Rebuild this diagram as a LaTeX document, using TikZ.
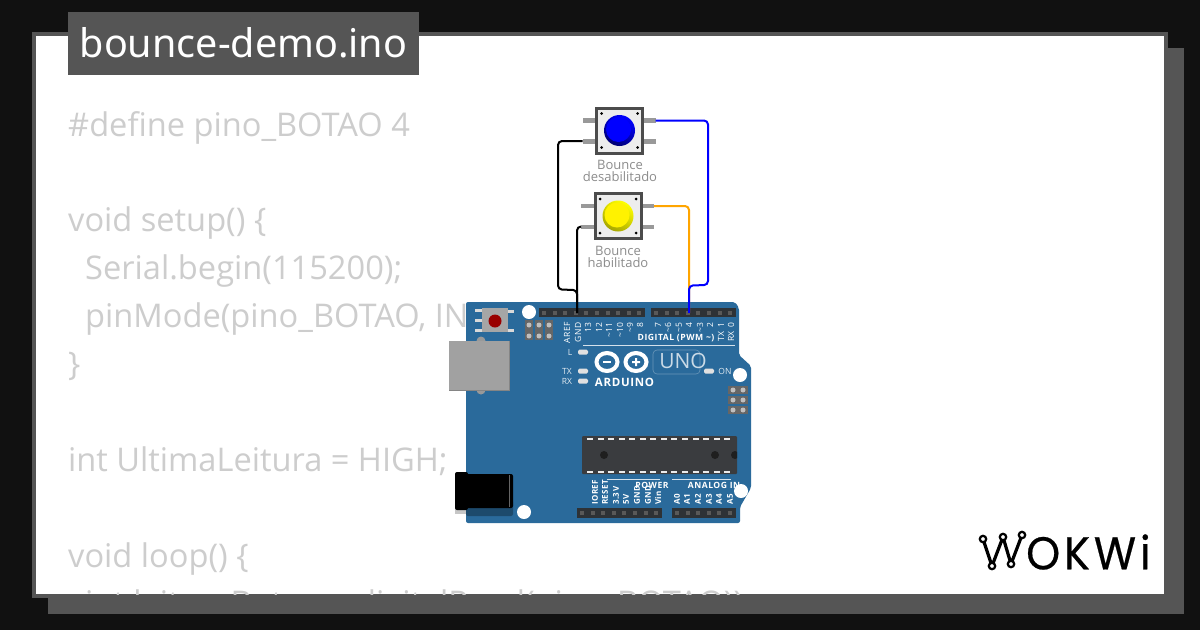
\documentclass[tikz,border=0pt]{standalone}
\usepackage{fontspec}
\setmainfont{Open Sans}
\newfontfamily\titlefont{Noto Sans}
\newfontfamily\boardfont[LetterSpace=6]{Open Sans}
\newfontfamily\logofont[LetterSpace=9,FakeBold=0.5]{Poppins}
\usetikzlibrary{positioning}
\definecolor{pagedark}{HTML}{111111}
\definecolor{framegrey}{HTML}{555555}
\definecolor{codegrey}{HTML}{CDCDCD}
\definecolor{boardblue}{HTML}{2A6A9B}
\definecolor{headerdark}{HTML}{2E3236}
\definecolor{chipdark}{HTML}{3A3C3F}
\definecolor{wireorange}{HTML}{FFA500}
\tikzset{
    codeline/.style={anchor=base west, inner sep=0pt, text=codegrey, font=\fontsize{32.6}{33}\selectfont},
    pinlabel/.style={rotate=90, anchor=east, inner sep=0pt, text=white, font=\boardfont\fontsize{8.5}{8.5}\selectfont},
    powerlabel/.style={rotate=90, anchor=west, inner sep=0pt, text=white, font=\boardfont\bfseries\fontsize{8}{8}\selectfont},
    boardlabel/.style={inner sep=0pt, text=white, font=\boardfont\bfseries\fontsize{8.6}{8.6}\selectfont},
    ledlabel/.style={inner sep=0pt, text=white!85!boardblue, font=\fontsize{8.5}{8.5}\selectfont},
    buttonlabel/.style={inner sep=0pt, text=black!45, align=center, font=\fontsize{13}{12.5}\selectfont},
    wire/.style={line width=2pt, rounded corners=4pt},
    lead/.style={fill=black!40, draw=none},
    hole/.style={fill=white, draw=none},
    led/.style={fill=white!88!black, draw=none, rounded corners=1.5pt}
}
\begin{document}
\begin{tikzpicture}[x=1pt, y=-1pt]
    \useasboundingbox (0,0) rectangle (1200,630);
    \fill[pagedark] (0,0) rectangle (1200,630);
    \fill[framegrey] (48,48) rectangle (1184,614);
    \fill[framegrey] (32,32) rectangle (1168,598);
    \fill[white] (36,36) rectangle (1164,594);

    \begin{scope}
        \clip (36,36) rectangle (1164,594);
        \node[codeline] (code1) at (68,136) {\#define pino\_BOTAO 4};
        \node[codeline] (code2) at (68,231) {void setup() \{};
        \node[codeline] (code3) at (85,279) {Serial.begin(115200);};
        \node[codeline] (code4) at (85,327) {pinMode(pino\_BOTAO, IN};
        \node[codeline] (code5) at (68,375) {\}};
        \node[codeline] (code6) at (68,471) {int UltimaLeitura = HIGH;};
        \node[codeline] (code7) at (68,567) {void loop() \{};
        \node[codeline] (code8) at (85,614) {int leituraBotao = digitalRead(pino\_BOTAO));};
    \end{scope}

    \fill[framegrey] (68,12) rectangle (419,75);
    \node[inner sep=0pt, text=white, font=\titlefont\fontsize{39.5}{39.5}\selectfont] (title) at (243.5,43) {bounce-demo.ino};

    % board
    \fill[boardblue, rounded corners=2pt] (466,302) -- (735,302) -- (739,308) -- (739,355) -- (751,366)
        -- (751,488) -- (740,507) -- (740,523) -- (466,523) -- cycle;
    \foreach \hx/\hy in {529/312, 740/375, 741/491, 524/512}
        \fill[hole] (\hx,\hy) circle (7);

    % reset button
    \foreach \ly in {310, 320, 330}
        \fill[white!85!black] (475,\ly-1.5) rectangle (482,\ly+1.5);
    \foreach \ly in {311, 330}
        \fill[white!85!black] (508,\ly-1.5) rectangle (514,\ly+1.5);
    \fill[black!35] (482,308) rectangle (508,332);
    \fill[red!60!black] (495,321) circle (6.5);

    % usb and power jack
    \fill[black!40] (481,341) circle (4.5) (481,390) circle (4.5);
    \fill[black!37] (449,341) rectangle (509,390);
    \draw[black!48, line width=1pt] (449,390) -- (509,390) -- (509,341);
    \fill[black!22] (455,505) rectangle (466,514);
    \fill[boardblue!70!black, rounded corners=2pt] (466,500) rectangle (513,516);
    \fill[black, rounded corners=2pt] (455,472) rectangle (468,510);
    \fill[black, rounded corners=2pt] (466,474) rectangle (513,508);
    \draw[black!60] (509,475) -- (509,507);

    % headers
    \fill[headerdark] (539,308) rectangle (645,317);
    \fill[headerdark] (651,308) rectangle (736,317);
    \fill[headerdark] (577,508) rectangle (662,518);
    \fill[headerdark] (672,508) rectangle (736,518);
    \foreach \n in {0,...,9}
        \fill[black!65] (544+\n*10.6-2,311) rectangle (544+\n*10.6+2,315);
    \foreach \n in {0,...,7}
        \fill[black!65] (656+\n*10.6-2,311) rectangle (656+\n*10.6+2,315);
    \foreach \n in {0,...,7}
        \fill[black!65] (582+\n*10.6-2,511) rectangle (582+\n*10.6+2,515);
    \foreach \n in {0,...,5}
        \fill[black!65] (677+\n*10.6-2,511) rectangle (677+\n*10.6+2,515);

    % icsp
    \foreach \ix in {529, 539, 549} {
        \fill[black!60] (\ix-4,320) rectangle (\ix+4,340);
        \fill[black!25] (\ix,325) circle (2.5) (\ix,336) circle (2.5);
    }
    \foreach \iy in {390, 400, 410} {
        \fill[black!60] (728,\iy-4) rectangle (748,\iy+4);
        \fill[black!25] (733,\iy) circle (2.5) (743,\iy) circle (2.5);
    }

    % chip
    \fill[chipdark, rounded corners=1pt] (582,436) rectangle (737,474);
    \foreach \n in {0,...,13} {
        \fill[black!8] (587+\n*10.55,438) rectangle (593+\n*10.55,440);
        \fill[black!8] (587+\n*10.55,470.5) rectangle (593+\n*10.55,472.5);
    }
    \fill[black!88] (604,455) circle (4) (715,455) circle (4);
    \begin{scope}
        \clip (582,436) rectangle (737,474);
        \fill[black!88] (735,455) circle (4);
    \end{scope}

    % pin labels
    \foreach \lx/\ltext in {567/AREF, 578/GND, 588/13, 599/12, 609/\textasciitilde 11, 620/\textasciitilde 10,
        630/\textasciitilde 9, 640/8, 658/7, 668/\textasciitilde 6, 679/\textasciitilde 5, 689/4,
        700/\textasciitilde 3, 710/2, 721/1, 731/0}
        \node[pinlabel] at (\lx,322) {\ltext};
    \node[pinlabel] (txpin) at (721,331) {TX};
    \node[pinlabel] (rxpin) at (731,331) {RX};
    \foreach \lx/\ltext in {595/IOREF, 605/RESET, 616/3.3V, 626/5V, 637/GND, 648/GND, 658/Vin,
        677/A0, 687/A1, 698/A2, 709/A3, 719/A4, 730/A5}
        \node[powerlabel] at (\lx,505) {\ltext};
    \node[boardlabel] (digital) at (676,338) {DIGITAL (PWM \textasciitilde)};
    \node[boardlabel] (power) at (652,485) {POWER};
    \node[boardlabel] (analog) at (714,485) {ANALOG IN};
    \draw[white!80!boardblue, line width=.8pt] (583,345) -- (735,345);
    \draw[white!80!boardblue, line width=.8pt] (607,479.5) -- (660,479.5);
    \draw[white!80!boardblue, line width=.8pt] (672,479.5) -- (731,479.5);

    % leds
    \foreach \ledx/\ledy in {583/352, 583/371, 583/381, 709/371}
        \fill[led] (\ledx-5,\ledy-2.5) rectangle (\ledx+5,\ledy+2.5);
    \node[ledlabel] (ledl) at (570,352) {L};
    \node[ledlabel] (ledtx) at (567,371) {TX};
    \node[ledlabel] (ledrx) at (567,381) {RX};
    \node[ledlabel] (ledon) at (725,371) {ON};

    % logo
    \draw[white, line width=4pt] (607,362) ellipse (10.5 and 9) (636,362) ellipse (10.5 and 9);
    \fill[white] (603,361) rectangle (611,363);
    \fill[white] (632,361) rectangle (640,363) (635,358) rectangle (637,366);
    \node[inner sep=0pt, text=white, font=\boardfont\bfseries\fontsize{11.5}{11.5}\selectfont] (arduino) at (624.5,382) {ARDUINO};
    \draw[white!30!boardblue, rounded corners=4pt, line width=.6pt] (653,350) rectangle (700,374);
    \node[inner sep=0pt, text=white!75!boardblue, font=\fontsize{21}{21}\selectfont] (uno) at (683,361) {UNO};

    % buttons
    \foreach \bname/\bx/\by/\bcol/\brim in {blue/619.5/130.5/blue/blue!45!black, yellow/618/216/yellow/yellow!65!black} {
        \fill[lead] (\bx-37,\by-12.5) rectangle (\bx-24,\by-8);
        \fill[lead] (\bx-37,\by+8.5) rectangle (\bx-24,\by+13);
        \fill[lead] (\bx+24,\by-12.5) rectangle (\bx+36,\by-8);
        \fill[lead] (\bx+24,\by+8.5) rectangle (\bx+36,\by+13);
        \node[draw=black!70, fill=black!7, line width=3pt, minimum width=46pt, minimum height=45pt, inner sep=0pt] (\bname) at (\bx,\by) {};
        \coordinate (\bname l1) at (\bx-37,\by+10.5);
        \coordinate (\bname r0) at (\bx+36,\by-10);
        \foreach \dx/\dy in {-18/-17, 18/-17, -18/17, 18/17}
            \fill[black] (\bx+\dx,\by+\dy) circle (1.5);
        \shade[top color=\bcol, bottom color=\brim, shading angle=-30] (\bx,\by) circle (15.5);
        \fill[\bcol] (\bx-1,\by-1) circle (12.5);
    }
    \node[buttonlabel] (bluetext) at (620,171) {Bounce\\desabilitado};
    \node[buttonlabel] (yellowtext) at (618,257) {Bounce\\habilitado};

    % wires
    \coordinate (gnd) at (577,313);
    \coordinate (pin4) at (689,313);
    \draw[wire, black] (bluel1) -- (558,141) -- (558,289.5) -- (577,290) -- (gnd);
    \draw[wire, black] (yellowl1) -- (577,226.5) -- (gnd);
    \draw[wire, wireorange] (yellowr0) -- (689,206) -- (pin4);
    \draw[wire, blue] (bluer0) -- (708,120.5) -- (708,285) -- (689,285.5) -- (pin4);

    % wokwi mark
    \draw[black, line width=3.2pt, line join=round] (983,539) -- (992,566) -- (1003,537) -- (1011,564) -- (1022,535);
    \foreach \mx/\my in {983/539, 1003/537, 1022/535, 992/566, 1011/564}
        \filldraw[fill=white, draw=black, line width=2.2pt] (\mx,\my) circle (3.2);
    \node[inner sep=0pt, anchor=west, text=black, xscale=.94, font=\logofont\fontsize{46}{46}\selectfont] (wokwi) at (1026,552) {OKWi};
\end{tikzpicture}
\end{document}
